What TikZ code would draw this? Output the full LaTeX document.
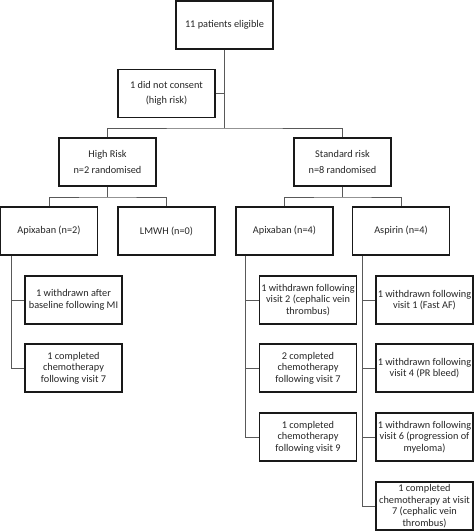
\documentclass[tikz,border=0pt]{standalone}
\usepackage{fontspec}
\setmainfont{Carlito}
\begin{document}
\begin{tikzpicture}[x=1pt,y=-1pt,
  box/.style={draw=black!90, line width=1.4pt, minimum width=97pt, minimum height=48pt,
    inner sep=1pt, align=center, font=\fontsize{10.3}{11.6}\selectfont, text=black!85},
  boxwide/.style={box, font=\fontsize{10.3}{15.5}\selectfont},
  conn/.style={draw=black!65, line width=0.9pt}]
\useasboundingbox (0,0) rectangle (474,531);
\node[box] (top) at (224.5,25) {11 patients eligible};
\node[boxwide] (consent) at (166.5,93.5) {1 did not consent\\(high risk)};
\node[boxwide] (high) at (107.5,162) {High Risk\\n=2 randomised};
\node[boxwide] (std) at (342.5,162) {Standard risk\\n=8 randomised};
\node[box] (apix2) at (49,231) {Apixaban (n=2)};
\node[box] (lmwh) at (166.5,231) {LMWH (n=0)};
\node[box] (apix4) at (284.5,231) {Apixaban (n=4)};
\node[box] (asp) at (401,231) {Aspirin (n=4)};
\node[box] (a2c1) at (73.5,300) {1 withdrawn after\\baseline following MI};
\node[box] (a2c2) at (73.5,368) {1 completed\\chemotherapy\\following visit 7};
\node[box] (a4c1) at (308,300) {1 withdrawn following\\visit 2 (cephalic vein\\thrombus)};
\node[box] (a4c2) at (308,368) {2 completed\\chemotherapy\\following visit 7};
\node[box] (a4c3) at (308,437) {1 completed\\chemotherapy\\following visit 9};
\node[box] (sc1) at (424.5,300) {1 withdrawn following\\visit 1 (Fast AF)};
\node[box] (sc2) at (424.5,368) {1 withdrawn following\\visit 4 (PR bleed)};
\node[box] (sc3) at (424.5,437) {1 withdrawn following\\visit 6 (progression of\\myeloma)};
\node[box] (sc4) at (424.5,506) {1 completed\\chemotherapy at visit\\7 (cephalic vein\\thrombus)};
\coordinate (j1) at (224.5,128);
\coordinate (j2) at (107.5,197);
\coordinate (j3) at (342.5,197);
\coordinate (s1) at (11,0);
\coordinate (s2) at (245,0);
\coordinate (s3) at (362,0);
\draw[conn] (top.south) -- (j1);
\draw[conn] (consent.east) -- (consent.east -| j1);
\draw[conn] (high.north) |- (j1) -| (std.north);
\draw[conn] (high.south) -- (j2);
\draw[conn] (apix2.north) |- (j2) -| (lmwh.north);
\draw[conn] (std.south) -- (j3);
\draw[conn] (apix4.north) |- (j3) -| (asp.north);
\draw[conn] (apix2.south -| s1) |- (a2c2.west);
\draw[conn] (s1 |- a2c1.west) -- (a2c1.west);
\draw[conn] (apix4.south -| s2) |- (a4c3.west);
\draw[conn] (s2 |- a4c1.west) -- (a4c1.west);
\draw[conn] (s2 |- a4c2.west) -- (a4c2.west);
\draw[conn] (asp.south -| s3) |- (sc4.west);
\draw[conn] (s3 |- sc1.west) -- (sc1.west);
\draw[conn] (s3 |- sc2.west) -- (sc2.west);
\draw[conn] (s3 |- sc3.west) -- (sc3.west);
\end{tikzpicture}
\end{document}
